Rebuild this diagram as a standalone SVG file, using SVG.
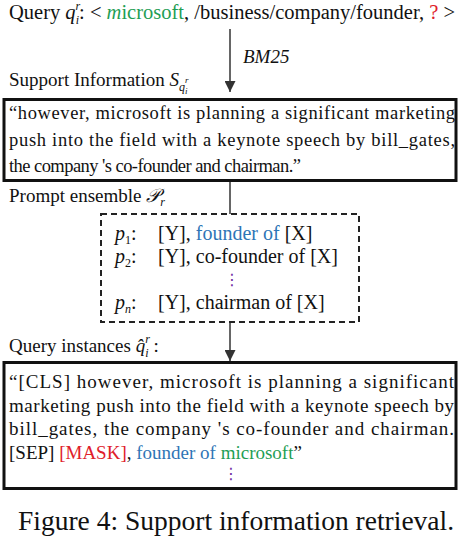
<svg xmlns="http://www.w3.org/2000/svg" width="458" height="536" viewBox="0 0 458 536">
<defs>
<style>
text{font-family:"Liberation Serif","Times New Roman",serif;fill:#111;}
.t20{font-size:20px;}
.t19{font-size:19px;}
.t18{font-size:18.5px;}
.it{font-style:italic;}
.sm{font-size:12px;font-style:italic;}
.green{fill:#1f9e55;}
.blue{fill:#2e75b6;}
.red{fill:#e0202a;}
.dots{font-family:"DejaVu Sans",sans-serif;font-size:16px;fill:#7030a0;}
.box{fill:#fff;stroke:#111;stroke-width:3;}
.dash{fill:none;stroke:#222;stroke-width:2;stroke-dasharray:6 4;}
.conn{stroke:#333;stroke-width:1.5;fill:none;}
</style>
<marker id="ah" markerWidth="12" markerHeight="11" refX="11" refY="5.5" orient="auto" markerUnits="userSpaceOnUse">
<path d="M0,0 L11,5.5 L0,11 Z" fill="#333"/>
</marker>
</defs>
<rect width="458" height="536" fill="#fff"/>

<g id="query">
<text x="9" y="19" style="font-size:20.5px" textLength="446" lengthAdjust="spacing">Query <tspan class="it">q</tspan><tspan class="sm" dy="-9">r</tspan><tspan class="sm" dx="-4.5" dy="14">i</tspan><tspan dy="-5">: &lt; </tspan><tspan class="green"><tspan class="it">m</tspan>icrosoft</tspan>, /business/company/founder, <tspan class="red">?</tspan> &gt;</text>
</g>

<g id="connectors">
<line class="conn" x1="230" y1="29" x2="230" y2="92" marker-end="url(#ah)"/>
<line class="conn" x1="230" y1="181" x2="230" y2="214"/>
<line class="conn" x1="230" y1="322" x2="230" y2="361" marker-end="url(#ah)"/>
</g>

<g id="bm25-label">
<text class="t19 it" x="243" y="63">BM25</text>
</g>

<g id="support-label">
<text class="t19" x="9" y="86">Support Information <tspan class="it">S</tspan><tspan class="sm" dy="5">q</tspan><tspan style="font-size:9px;font-style:italic" dy="-8">r</tspan><tspan style="font-size:9px;font-style:italic" dx="-3.5" dy="11">i</tspan></text>
</g>

<g id="support-box">
<rect class="box" x="4" y="99.5" width="452" height="81"/>
<text class="t18" x="9" y="119" textLength="446" lengthAdjust="spacing">“however, microsoft is planning a significant marketing</text>
<text class="t18" x="9" y="145.5" textLength="446" lengthAdjust="spacing">push into the field with a keynote speech by bill_gates,</text>
<text class="t18" x="9" y="172" textLength="292" lengthAdjust="spacing">the company 's co-founder and chairman.”</text>
</g>

<g id="prompt-label">
<text class="t19" x="9" y="202">Prompt ensemble <tspan class="it" style="font-family:'DejaVu Serif',serif">𝒫</tspan><tspan class="sm" dy="4">r</tspan></text>
</g>

<g id="prompt-box">
<rect class="dash" x="101" y="214" width="258" height="108"/>
<text class="t20" x="115" y="240"><tspan class="it">p</tspan><tspan class="sm" style="font-style:normal" dy="4">1</tspan><tspan dy="-4">:</tspan></text>
<text class="t20" x="158" y="240">[Y],  <tspan class="blue">founder of</tspan> [X]</text>
<text class="t20" x="115" y="263"><tspan class="it">p</tspan><tspan class="sm" style="font-style:normal" dy="4">2</tspan><tspan dy="-4">:</tspan></text>
<text class="t20" x="158" y="263">[Y], co-founder of [X]</text>
<text class="dots" x="224" y="285">⋮</text>
<text class="t20" x="115" y="309"><tspan class="it">p</tspan><tspan class="sm" dy="4">n</tspan><tspan dy="-4">:</tspan></text>
<text class="t20" x="158" y="309">[Y], chairman of [X]</text>
</g>

<g id="instances-label">
<text class="t19" x="9" y="352">Query instances <tspan class="it">q̂</tspan><tspan class="sm" dy="-9">r</tspan><tspan class="sm" dx="-4.5" dy="14">i</tspan><tspan dy="-5"> :</tspan></text>
</g>

<g id="instances-box">
<rect class="box" x="4" y="362.5" width="452" height="126"/>
<text class="t19" x="9" y="388" textLength="445" lengthAdjust="spacing">“[CLS] however, microsoft is planning a significant</text>
<text class="t19" x="9" y="411.5" textLength="445" lengthAdjust="spacing">marketing push into the field with a keynote speech by</text>
<text class="t19" x="9" y="435" textLength="445" lengthAdjust="spacing">bill_gates, the company 's co-founder and chairman.</text>
<text class="t19" x="9" y="458.5">[SEP] <tspan class="red">[MASK]</tspan>, <tspan class="blue">founder of</tspan> <tspan class="green">microsoft</tspan>”</text>
<text class="dots" x="223" y="479">⋮</text>
</g>

<g id="caption">
<text x="18" y="530" style="font-size:27.5px">Figure 4: Support information retrieval.</text>
</g>
</svg>
